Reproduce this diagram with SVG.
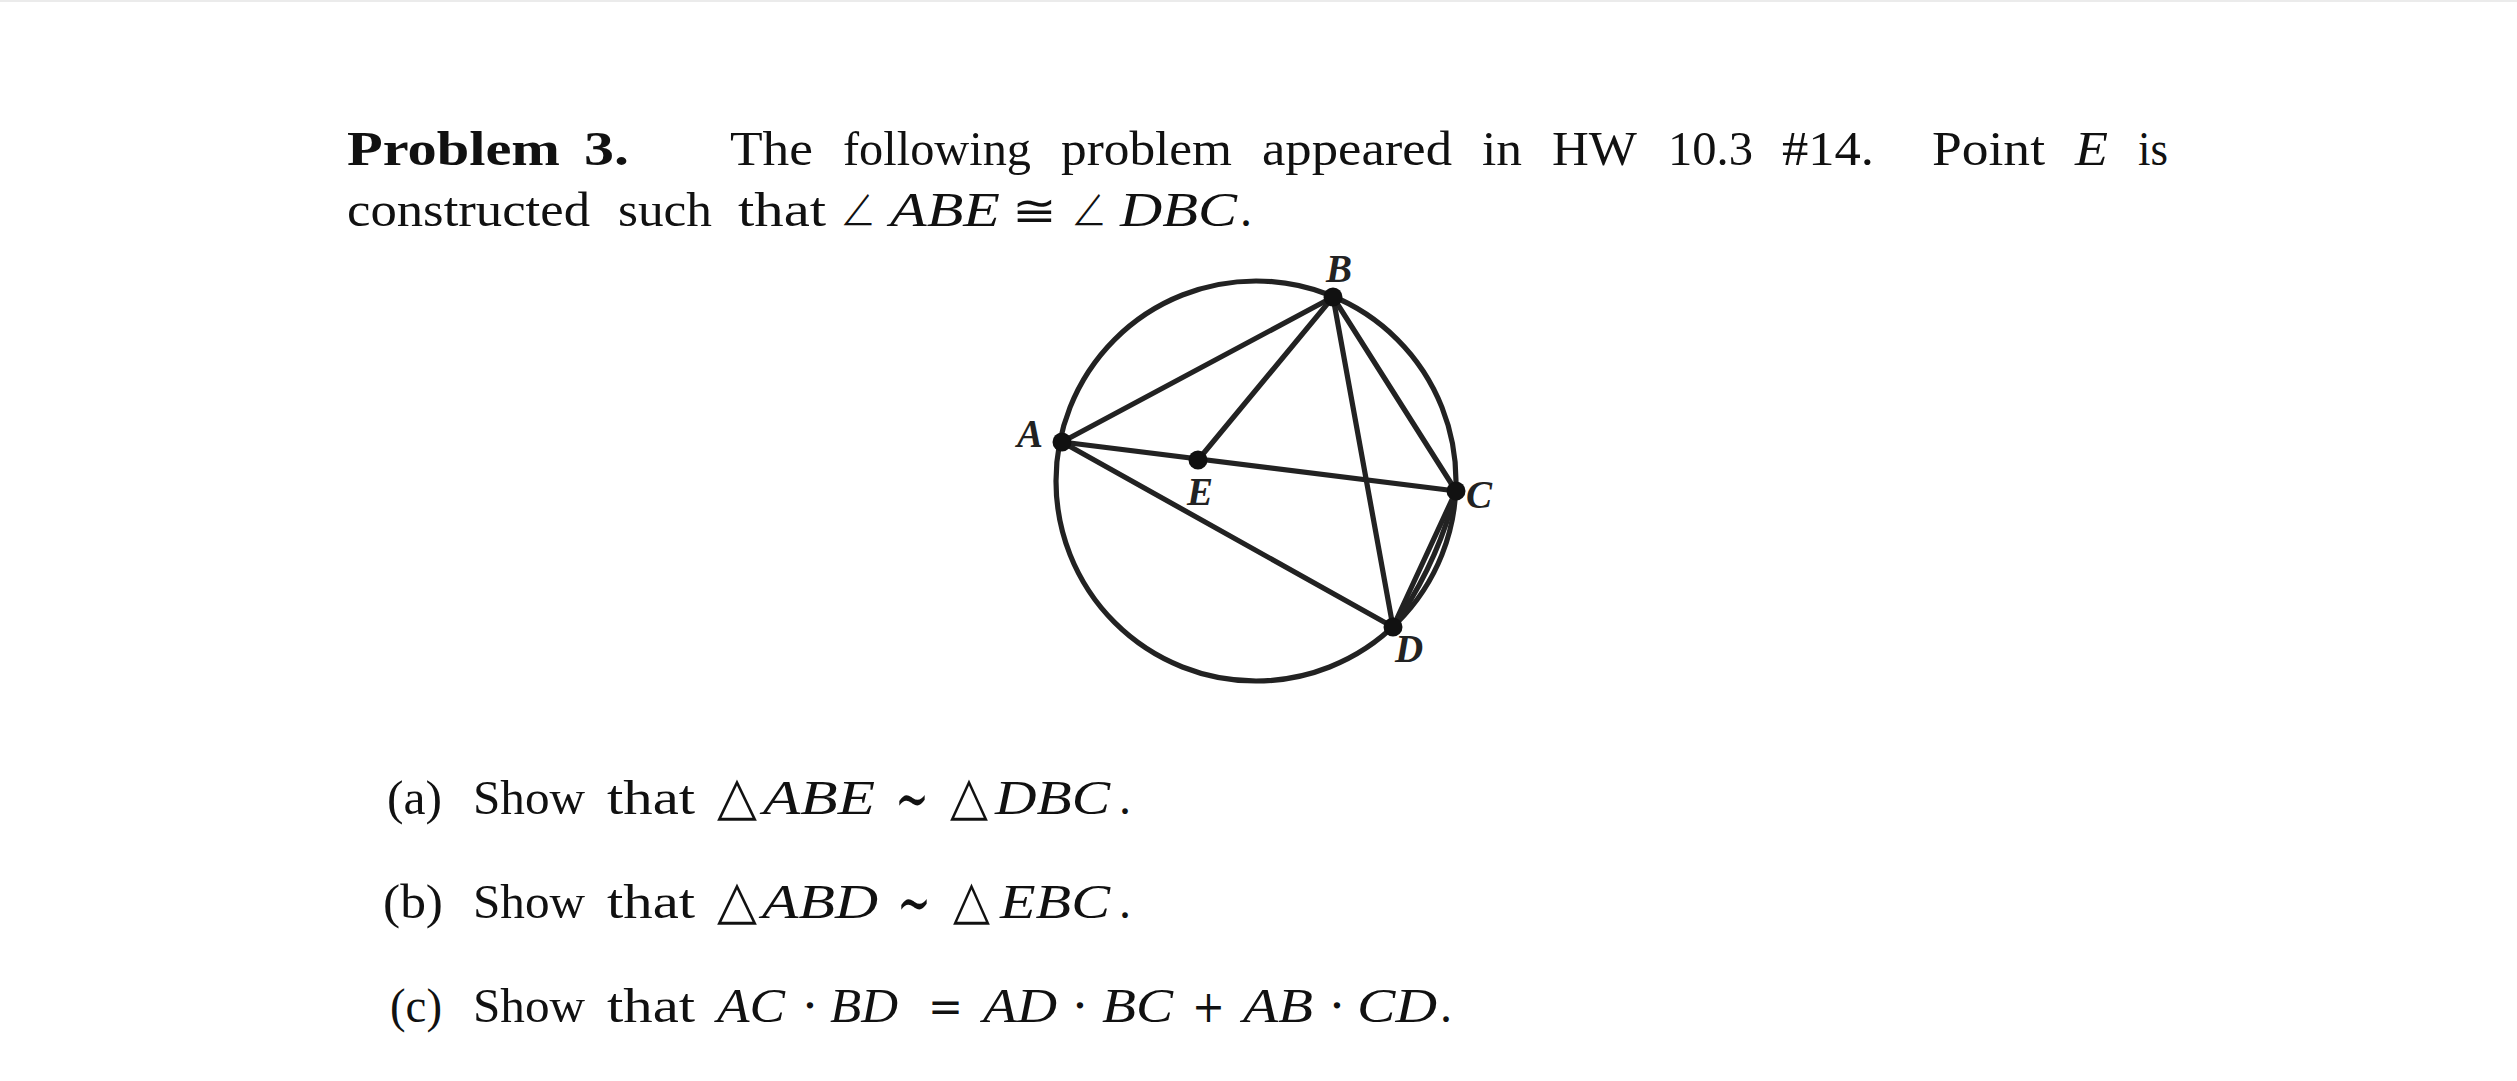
<svg xmlns="http://www.w3.org/2000/svg" width="2517" height="1081" viewBox="0 0 2517 1081">
<defs>
<style>
.t { font-family: "Liberation Serif", "DejaVu Serif", serif; font-size: 48px; fill: #111; }
.b { font-weight: bold; }
.i { font-style: italic; }
.s { font-family: "DejaVu Serif", "Liberation Serif", serif; font-size: 44px; fill: #111; }
.ang { font-family: "Noto Sans CJK SC", "DejaVu Serif", sans-serif; font-size: 46px; font-weight: 300; }
.sim { font-family: "DejaVu Serif", "Liberation Serif", serif; font-size: 66px; }
.tri { font-size: 54px; }
.lbl { font-family: "Liberation Serif", serif; font-style: italic; font-weight: bold; font-size: 39px; fill: #222; }
.seg { stroke: #222; stroke-width: 5.2; fill: none; stroke-linecap: round; }
.pt { fill: #111; }
</style>
</defs>
<rect width="2517" height="1081" fill="#ffffff"/>
<rect x="0" y="0" width="2517" height="2" fill="#ebebeb"/>

<g id="statement">
<text class="t b" x="347" y="165" textLength="213" lengthAdjust="spacingAndGlyphs">Problem</text>
<text class="t b" x="584" y="165" textLength="45" lengthAdjust="spacingAndGlyphs">3.</text>
<text class="t" x="730" y="165" textLength="83" lengthAdjust="spacingAndGlyphs">The</text>
<text class="t" x="843" y="165" textLength="188" lengthAdjust="spacingAndGlyphs">following</text>
<text class="t" x="1061" y="165" textLength="171" lengthAdjust="spacingAndGlyphs">problem</text>
<text class="t" x="1262" y="165" textLength="190" lengthAdjust="spacingAndGlyphs">appeared</text>
<text class="t" x="1482" y="165" textLength="40" lengthAdjust="spacingAndGlyphs">in</text>
<text class="t" x="1552" y="165" textLength="85" lengthAdjust="spacingAndGlyphs">HW</text>
<text class="t" x="1668" y="165" textLength="85" lengthAdjust="spacingAndGlyphs">10.3</text>
<text class="t" x="1782" y="165" textLength="92" lengthAdjust="spacingAndGlyphs">#14.</text>
<text class="t" x="1932" y="165" textLength="113" lengthAdjust="spacingAndGlyphs">Point</text>
<text class="t i" x="2075" y="165" textLength="33" lengthAdjust="spacingAndGlyphs">E</text>
<text class="t" x="2138" y="165" textLength="30" lengthAdjust="spacingAndGlyphs">is</text>

<text class="t" x="347" y="226" textLength="243" lengthAdjust="spacingAndGlyphs">constructed</text>
<text class="t" x="618" y="226" textLength="94" lengthAdjust="spacingAndGlyphs">such</text>
<text class="t" x="738" y="226" textLength="88" lengthAdjust="spacingAndGlyphs">that</text>
<text class="s ang" x="840" y="226" textLength="36" lengthAdjust="spacingAndGlyphs">∠</text>
<text class="t i" x="890" y="226" textLength="110" lengthAdjust="spacingAndGlyphs">ABE</text>
<text class="s" x="1012" y="226" textLength="45" lengthAdjust="spacingAndGlyphs">≅</text>
<text class="s ang" x="1071" y="226" textLength="36" lengthAdjust="spacingAndGlyphs">∠</text>
<text class="t i" x="1120" y="226" textLength="117" lengthAdjust="spacingAndGlyphs">DBC</text>
<text class="t" x="1240" y="226">.</text>
</g>

<g id="figure">
<circle id="circumcircle" cx="1256" cy="481" r="200" class="seg"/>
<g id="connectors">
<line class="seg" x1="1062" y1="442" x2="1333" y2="297"/>
<line class="seg" x1="1062" y1="442" x2="1456" y2="491"/>
<line class="seg" x1="1062" y1="442" x2="1393" y2="627"/>
<line class="seg" x1="1333" y1="297" x2="1198" y2="460"/>
<line class="seg" x1="1333" y1="297" x2="1456" y2="491"/>
<line class="seg" x1="1333" y1="297" x2="1393" y2="627"/>
<line class="seg" x1="1456" y1="491" x2="1393" y2="627"/>
<path class="seg" d="M1456 491 Q1437 565 1393 627"/>
</g>
<g id="node-A"><circle class="pt" cx="1062" cy="442" r="9.5"/><text class="lbl" x="1017" y="447">A</text></g>
<g id="node-B"><circle class="pt" cx="1333" cy="297" r="9.5"/><text class="lbl" x="1326" y="282">B</text></g>
<g id="node-C"><circle class="pt" cx="1456" cy="491" r="9.5"/><text class="lbl" x="1466" y="508">C</text></g>
<g id="node-D"><circle class="pt" cx="1393" cy="627" r="9.5"/><text class="lbl" x="1395" y="662">D</text></g>
<g id="node-E"><circle class="pt" cx="1198" cy="460" r="9.5"/><text class="lbl" x="1187" y="505">E</text></g>
</g>

<g id="part-a">
<text class="t" x="387" y="814" textLength="55" lengthAdjust="spacingAndGlyphs">(a)</text>
<text class="t" x="473" y="814" textLength="112" lengthAdjust="spacingAndGlyphs">Show</text>
<text class="t" x="607" y="814" textLength="88" lengthAdjust="spacingAndGlyphs">that</text>
<text class="s tri" x="717" y="814" textLength="40" lengthAdjust="spacingAndGlyphs">△</text>
<text class="t i" x="763" y="814" textLength="112" lengthAdjust="spacingAndGlyphs">ABE</text>
<text class="s sim" x="895" y="821" textLength="34" lengthAdjust="spacingAndGlyphs">∼</text>
<text class="s tri" x="950" y="814" textLength="38" lengthAdjust="spacingAndGlyphs">△</text>
<text class="t i" x="995" y="814" textLength="115" lengthAdjust="spacingAndGlyphs">DBC</text>
<text class="t" x="1119" y="814">.</text>
</g>

<g id="part-b">
<text class="t" x="383" y="918" textLength="60" lengthAdjust="spacingAndGlyphs">(b)</text>
<text class="t" x="473" y="918" textLength="112" lengthAdjust="spacingAndGlyphs">Show</text>
<text class="t" x="607" y="918" textLength="88" lengthAdjust="spacingAndGlyphs">that</text>
<text class="s tri" x="717" y="918" textLength="40" lengthAdjust="spacingAndGlyphs">△</text>
<text class="t i" x="762" y="918" textLength="116" lengthAdjust="spacingAndGlyphs">ABD</text>
<text class="s sim" x="897" y="925" textLength="34" lengthAdjust="spacingAndGlyphs">∼</text>
<text class="s tri" x="953" y="918" textLength="37" lengthAdjust="spacingAndGlyphs">△</text>
<text class="t i" x="1000" y="918" textLength="110" lengthAdjust="spacingAndGlyphs">EBC</text>
<text class="t" x="1119" y="918">.</text>
</g>

<g id="part-c">
<text class="t" x="390" y="1022" textLength="52" lengthAdjust="spacingAndGlyphs">(c)</text>
<text class="t" x="473" y="1022" textLength="112" lengthAdjust="spacingAndGlyphs">Show</text>
<text class="t" x="607" y="1022" textLength="88" lengthAdjust="spacingAndGlyphs">that</text>
<text class="t i" x="717" y="1022" textLength="68" lengthAdjust="spacingAndGlyphs">AC</text>
<text class="t" x="810" y="1022" text-anchor="middle">⋅</text>
<text class="t i" x="830" y="1022" textLength="68" lengthAdjust="spacingAndGlyphs">BD</text>
<text class="s" x="928" y="1022" textLength="35" lengthAdjust="spacingAndGlyphs">=</text>
<text class="t i" x="983" y="1022" textLength="74" lengthAdjust="spacingAndGlyphs">AD</text>
<text class="t" x="1080" y="1022" text-anchor="middle">⋅</text>
<text class="t i" x="1102" y="1022" textLength="71" lengthAdjust="spacingAndGlyphs">BC</text>
<text class="s" x="1192" y="1022" textLength="33" lengthAdjust="spacingAndGlyphs">+</text>
<text class="t i" x="1243" y="1022" textLength="70" lengthAdjust="spacingAndGlyphs">AB</text>
<text class="t" x="1337" y="1022" text-anchor="middle">⋅</text>
<text class="t i" x="1357" y="1022" textLength="80" lengthAdjust="spacingAndGlyphs">CD</text>
<text class="t" x="1440" y="1022">.</text>
</g>
</svg>
